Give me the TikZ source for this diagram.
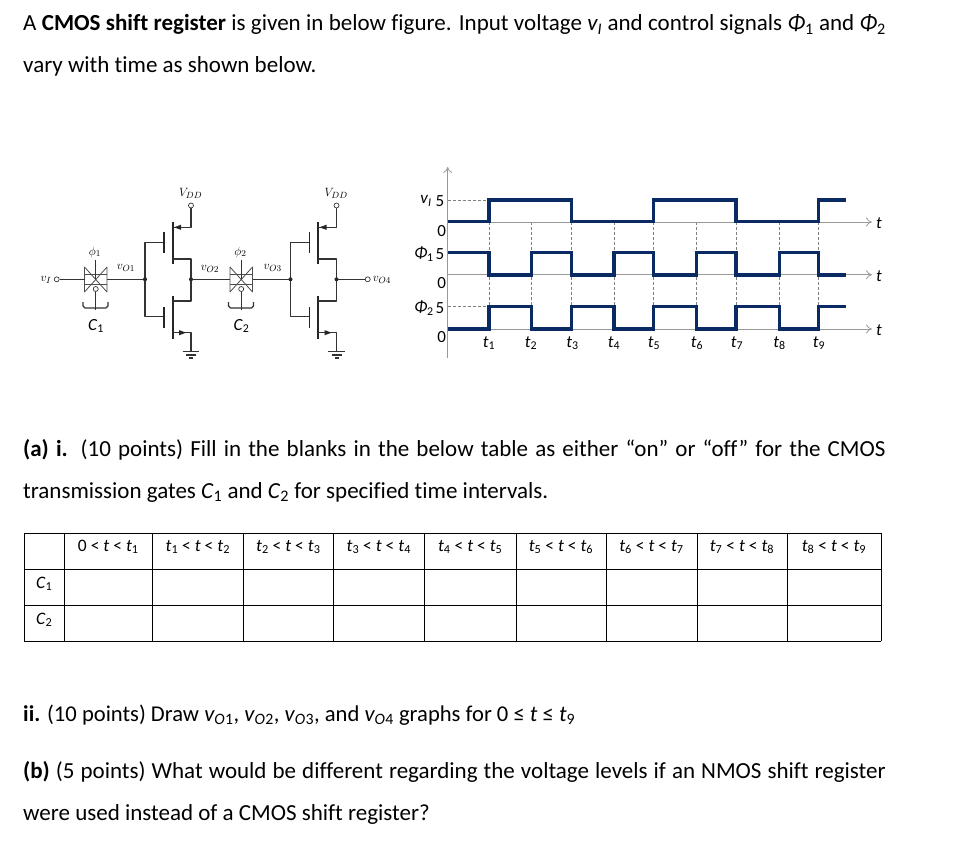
\documentclass[tikz,border=0pt]{standalone}
\usepackage{fontspec}
\setmainfont{Carlito}[Ligatures=CommonOff]
\tikzset{
    bodyline/.style={anchor=base west, inner sep=0pt, font=\fontsize{23}{26}\selectfont},
    sigwave/.style={line width=3.3pt, draw=wavecol, line join=miter},
    timeaxis/.style={draw=gray!80, line width=0.8pt, ->, >={To[open,length=6pt,width=9pt]}},
    guide/.style={draw=gray, densely dashed, line width=0.5pt},
    wire/.style={line width=1.1pt, draw=black!80},
    plate/.style={line width=1.8pt, draw=black!85},
    pin/.style={circle, draw=black!80, fill=white, line width=0.7pt, inner sep=0pt, minimum size=5pt},
    junction/.style={circle, fill=black!85, inner sep=0pt, minimum size=4pt},
    circlabel/.style={inner sep=0pt, font=\fontsize{13}{14}\selectfont},
    axlabel/.style={inner sep=0pt, font=\fontsize{17}{18}\selectfont},
    headcell/.style={inner sep=0pt, font=\fontsize{17.5}{18}\selectfont},
    grid line/.style={line width=0.9pt, draw=black}
}
\definecolor{wavecol}{HTML}{0A2A63}
\usetikzlibrary{arrows.meta}
\newcommand{\tm}[1]{\textit{t}\textsubscript{#1}}
\newcommand{\fitline}[1]{\makebox[862.5pt][s]{#1}}
\begin{document}
\begin{tikzpicture}[x=1pt, y=-1pt, line join=round]
    \useasboundingbox (0,0) rectangle (956,845);
    % question text
    \node[bodyline] (line1) at (23,31) {\fitline{A \textbf{CMOS shift register} is given in below figure. Input voltage \textit{v\textsubscript{I}} and control signals \textit{Φ}\textsubscript{1} and \textit{Φ}\textsubscript{2}}};
    \node[bodyline] (line2) at (23,73) {vary with time as shown below.};
    \node[bodyline] (line3) at (23,456) {\fitline{\textbf{(a) i.} (10 points) Fill in the blanks in the below table as either “on” or “off” for the CMOS}};
    \node[bodyline] (line4) at (23,498) {transmission gates \textit{C}\textsubscript{1} and \textit{C}\textsubscript{2} for specified time intervals.};
    \node[bodyline, font=\fontsize{22.6}{26}\selectfont] (line5) at (23,721) {\textbf{ii.} (10 points) Draw \textit{v\textsubscript{O}}\textsubscript{1}, \textit{v\textsubscript{O}}\textsubscript{2}, \textit{v\textsubscript{O}}\textsubscript{3}, and \textit{v\textsubscript{O}}\textsubscript{4} graphs for 0 ≤ \textit{t} ≤ \tm{9}};
    \node[bodyline] (line6) at (23,778) {\fitline{\textbf{(b)} (5 points) What would be different regarding the voltage levels if an NMOS shift register}};
    \node[bodyline] (line7) at (23,820) {were used instead of a CMOS shift register?};
    % circuit, two identical stages
    \foreach \i/\dx/\sig in {1/0/1,2/145.5/2}{
        \begin{scope}[xshift=\dx pt]
            \coordinate (tgl\i) at (84.5,279.3);
            \coordinate (tgr\i) at (107,279.3);
            \coordinate (tgm\i) at (95.7,279.3);
            \coordinate (gin\i) at (145,279.3);
            \coordinate (out\i) at (191,279.3);
            % transmission gate
            \draw[line width=0.8pt, draw=black!70] (84.5,267)--(84.5,292) (107,267)--(107,292)
                (84.5,267)--(107,292) (84.5,292)--(107,267)
                (84.5,274.5)--(107,274.5) (84.5,284.5)--(107,284.5);
            \draw[wire] (95.7,260)--(tgm\i);
            \node[pin] (bub\i) at (95.7,289) {};
            \draw[wire] (bub\i)--(95.7,310);
            \draw[wire] (83,302)--(83,306)--(85,308)--(106,308)--(108,306)--(108,302);
            \node[circlabel] (phi\i) at (95,252) {$\phi_{\sig}$};
            \node[inner sep=0pt, font=\fontsize{17}{18}\selectfont] (cap\i) at (96,326) {\textit{C}\textsubscript{\sig}};
            % inverter
            \draw[wire] (tgr\i)--(gin\i);
            \coordinate (gp\i) at (164,242.7);
            \coordinate (gn\i) at (164,316.7);
            \draw[wire] (gp\i)-|(gin\i)|-(gn\i);
            \draw[plate] (164,232)--(164,253) (164,307)--(164,328)
                (172.7,221.7)--(172.7,264) (172.7,296)--(172.7,339);
            \node[pin] (vdd\i) at (191,205.5) {};
            \draw[wire] (172.7,259)-|(out\i)|-(172.7,301);
            \draw[wire] (vdd\i)|-(172.7,227.3);
            \draw[wire] (172.7,332.7)-|(191,351.7);
            \fill[black!85] (174,227.3)--(181,224.7)--(181,229.9)--cycle;
            \fill[black!85] (186,332.7)--(179,330.1)--(179,335.3)--cycle;
            \draw[wire] (182.7,351.7)--(199,351.7) (186,355)--(196,355) (189,358)--(193,358);
            \node[junction] at (gin\i) {};
            \node[junction] at (out\i) {};
            \node[circlabel] (vddlab\i) at (190.7,193.5) {$V_{DD}$};
        \end{scope}
    }
    \node[pin] (vi) at (56.7,279.3) {};
    \node[pin] (vo4) at (367.7,279.3) {};
    \draw[wire] (vi)--(tgl1);
    \draw[wire] (out1)--(tgl2);
    \draw[wire] (out2)--(vo4);
    \node[circlabel] (lbi) at (46,280) {$v_I$};
    \node[circlabel] (lbo1) at (126,268) {$v_{O1}$};
    \node[circlabel] (lbo2) at (210,269) {$v_{O2}$};
    \node[circlabel] (lbo3) at (272.7,268) {$v_{O3}$};
    \node[circlabel] (lbo4) at (382,279.5) {$v_{O4}$};
    % timing diagram
    \def\tone{489}\def\ttwo{531.3}\def\tthree{571.7}\def\tfour{614}\def\tfive{653.3}
    \def\tsix{696.7}\def\tseven{736}\def\teight{779.3}\def\tnine{818.3}\def\tend{846}
    \draw[guide] (447.7,200)--(\tone,200) (447.7,306.7)--(\tone,306.7);
    \foreach \x in {\tone,\ttwo,\tthree,\tfour,\tfive,\tsix,\tseven,\teight,\tnine}
        \draw[guide] (\x,222)--(\x,329);
    \draw[timeaxis] (447.7,358)--(447.7,167);
    \foreach \y in {222,274.7,329}{
        \draw[timeaxis] (447.7,\y)--(872,\y);
        \node[axlabel] at (879,\y+1) {\textit{t}};
    }
    \draw[sigwave] (447.7,221.7)-|(\tone,200)-|(\tthree,221.7)-|(\tfive,200)-|(\tseven,221.7)-|(\tnine,200)--(\tend,200);
    \draw[sigwave] (447.7,252.3)-|(\tone,275)-|(\ttwo,252.3)-|(\tthree,275)-|(\tfour,252.3)-|(\tfive,275)-|(\tsix,252.3)-|(\tseven,275)-|(\teight,252.3)-|(\tnine,275)--(\tend,275);
    \draw[sigwave] (447.7,329)-|(\tone,306.7)-|(\ttwo,329)-|(\tthree,306.7)-|(\tfour,329)-|(\tfive,306.7)-|(\tsix,329)-|(\tseven,306.7)-|(\teight,329)-|(\tnine,306.7)--(\tend,306.7);
    \node[axlabel] (lvi) at (426,201) {\textit{v\textsubscript{I}}};
    \node[axlabel] (lvif) at (440,201) {5};
    \node[axlabel] (lvio) at (441.7,231) {0};
    \node[axlabel] (lpa) at (424,254) {\textit{Φ}\textsubscript{1}};
    \node[axlabel] (lpaf) at (440,254) {5};
    \node[axlabel] (lpao) at (441.7,283) {0};
    \node[axlabel] (lpb) at (424,308) {\textit{Φ}\textsubscript{2}};
    \node[axlabel] (lpbf) at (440,308) {5};
    \node[axlabel] (lpbo) at (441.7,337) {0};
    \foreach \n/\x in {1/489,2/531,3/572.5,4/614,5/654,6/697,7/737,8/779.5,9/819}
        \node[axlabel] (tk\n) at (\x,343) {\tm{\n}};
    % table
    \foreach \x in {24.3,64.3,152.3,243.3,333.3,424.3,516,606,697,787,881}
        \draw[grid line] (\x,533)--(\x,641.3);
    \foreach \y in {533,569,605.3,641.3}
        \draw[grid line] (24.3,\y)--(881,\y);
    \node[headcell] (hd0) at (108.3,547) {0 < \textit{t} < \tm{1}};
    \foreach \n/\m/\x in {1/2/197.8,2/3/288.3,3/4/378.8,4/5/470.2,5/6/561,6/7/651.5,7/8/742,8/9/834}
        \node[headcell] (hd\n) at (\x,547) {\tm{\n} < \textit{t} < \tm{\m}};
    \node[headcell] (rowa) at (44.3,584) {\textit{C}\textsubscript{1}};
    \node[headcell] (rowb) at (44.3,620) {\textit{C}\textsubscript{2}};
\end{tikzpicture}
\end{document}
